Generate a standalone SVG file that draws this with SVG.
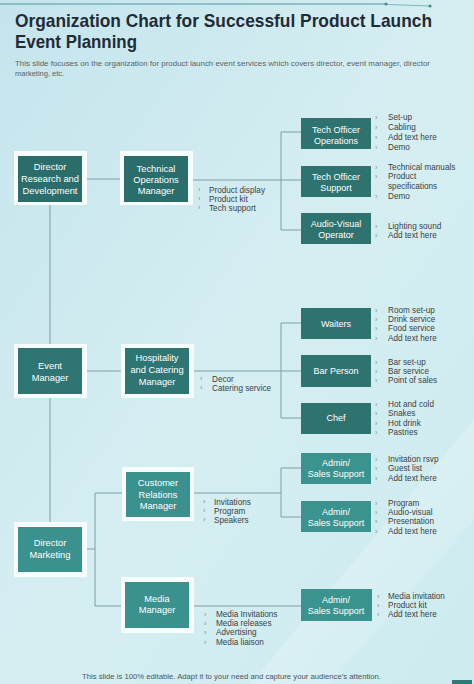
<svg xmlns="http://www.w3.org/2000/svg" width="474" height="684" viewBox="0 0 474 684">
<defs>
<linearGradient id="bg" x1="0" y1="0" x2="1" y2="1">
<stop offset="0" stop-color="#c4e4ec"/>
<stop offset="0.5" stop-color="#d5eef2"/>
<stop offset="1" stop-color="#cdebef"/>
</linearGradient>
<linearGradient id="streak" x1="0" y1="0" x2="1" y2="1">
<stop offset="0" stop-color="#ffffff" stop-opacity="0"/>
<stop offset="0.5" stop-color="#ffffff" stop-opacity="0.2"/>
<stop offset="1" stop-color="#ffffff" stop-opacity="0"/>
</linearGradient>
<style>
.frame{fill:#f7fcfd}
.d1{fill:#2b6d6b}
.d2{fill:#2f7573}
.d3{fill:#3a918e}
.bx{fill:#2f7371}
.bx2{fill:#3b9390}
.nt{font-family:"Liberation Sans",Arial,sans-serif;font-size:9.3px;fill:#ffffff;text-anchor:middle}
.st{font-family:"Liberation Sans",Arial,sans-serif;font-size:9px;fill:#ffffff;text-anchor:middle}
.li{font-family:"Liberation Sans",Arial,sans-serif;font-size:8.2px;fill:#3a3f44}
.bu{font-family:"Liberation Sans",Arial,sans-serif;font-size:7px;fill:#7a8489}
.conn path{fill:none;stroke:#7f9ea3;stroke-width:1}
</style>
</defs>
<rect width="474" height="684" fill="url(#bg)"/>
<polygon points="250,684 474,420 474,520 330,684" fill="url(#streak)"/>
<g id="topline">
<line x1="0" y1="4" x2="386" y2="4" stroke="#4e9aa0" stroke-width="1.2"/>
<line x1="386" y1="4.5" x2="430" y2="6" stroke="#6aa9ae" stroke-width="0.8"/>
<circle cx="386" cy="4" r="1.6" fill="#3f8e94"/>
<circle cx="430" cy="6" r="1.6" fill="#3f8e94"/>
</g>
<g id="title" font-family="'Liberation Sans',Arial,sans-serif" font-weight="bold" fill="#1f2b36">
<text x="15" y="27" font-size="18.5" textLength="417" lengthAdjust="spacingAndGlyphs">Organization Chart for Successful Product Launch</text>
<text x="15" y="48" font-size="18.5" textLength="122" lengthAdjust="spacingAndGlyphs">Event Planning</text>
</g>
<g id="subtitle" font-family="'Liberation Sans',Arial,sans-serif" font-size="7.5" fill="#5a6268">
<text x="15" y="66" textLength="415" lengthAdjust="spacingAndGlyphs">This slide focuses on the organization for product launch event services which covers director, event manager, director</text>
<text x="15" y="75.5">marketing, etc.</text>
</g>
<g id="connectors" class="conn">
<path d="M50 205 V522"/>
<path d="M87 179 H120"/>
<path d="M87 371 H121"/>
<path d="M193 180 H281 M281 132 V230 M281 132 H301 M281 180 H301 M281 230 H301"/>
<path d="M194 371 H281 M281 323 V418 M281 323 H301 M281 371 H301 M281 418 H301"/>
<path d="M87 549 H95 M95 493 V606 M95 493 H122 M95 606 H121"/>
<path d="M194 493 H281 M281 468 V517 M281 468 H301 M281 517 H301"/>
<path d="M194 606 H301"/>
</g>
<g id="n-dir-rd">
<rect class="frame" x="14" y="151" width="73" height="54"/>
<rect class="d1" x="18" y="156" width="64" height="46"/>
<text class="nt" x="50" y="169.5">Director</text>
<text class="nt" x="50" y="181.5">Research and</text>
<text class="nt" x="50" y="193.5">Development</text>
</g>
<g id="n-tech-ops">
<rect class="frame" x="120" y="151" width="73" height="54"/>
<rect class="d1" x="124" y="156" width="64" height="46"/>
<text class="nt" x="156" y="172">Technical</text>
<text class="nt" x="156" y="183">Operations</text>
<text class="nt" x="156" y="194">Manager</text>
</g>
<g id="n-event">
<rect class="frame" x="14" y="344" width="73" height="54"/>
<rect class="d2" x="18" y="348" width="64" height="46"/>
<text class="nt" x="50" y="369">Event</text>
<text class="nt" x="50" y="380.5">Manager</text>
</g>
<g id="n-hosp">
<rect class="frame" x="121" y="344" width="73" height="54"/>
<rect class="d2" x="125" y="348" width="64" height="46"/>
<text class="nt" x="157" y="361">Hospitality</text>
<text class="nt" x="157" y="373">and Catering</text>
<text class="nt" x="157" y="384.5">Manager</text>
</g>
<g id="n-dir-mkt">
<rect class="frame" x="14" y="522" width="73" height="55"/>
<rect class="d3" x="18" y="527" width="64" height="45"/>
<text class="nt" x="50" y="546">Director</text>
<text class="nt" x="50" y="558">Marketing</text>
</g>
<g id="n-crm">
<rect class="frame" x="122" y="467" width="72" height="54"/>
<rect class="d3" x="126" y="472" width="64" height="45"/>
<text class="nt" x="158" y="486">Customer</text>
<text class="nt" x="158" y="497.5">Relations</text>
<text class="nt" x="158" y="509">Manager</text>
</g>
<g id="n-media">
<rect class="frame" x="121" y="577" width="73" height="56"/>
<rect class="d3" x="125" y="582" width="64" height="46"/>
<text class="nt" x="157" y="602">Media</text>
<text class="nt" x="157" y="613">Manager</text>
</g>
<g id="n-to-ops">
<rect class="bx" x="301" y="118" width="70" height="31"/>
<text class="st" x="336" y="133">Tech Officer</text>
<text class="st" x="336" y="143.5">Operations</text>
</g>
<g id="n-to-sup">
<rect class="bx" x="301" y="166" width="70" height="31"/>
<text class="st" x="336" y="180">Tech Officer</text>
<text class="st" x="336" y="190.5">Support</text>
</g>
<g id="n-av">
<rect class="bx" x="301" y="213" width="70" height="31"/>
<text class="st" x="336" y="227">Audio-Visual</text>
<text class="st" x="336" y="238">Operator</text>
</g>
<g id="n-waiters">
<rect class="bx" x="301" y="308" width="70" height="31"/>
<text class="st" x="336" y="327">Waiters</text>
</g>
<g id="n-bar">
<rect class="bx" x="301" y="355" width="70" height="32"/>
<text class="st" x="336" y="374">Bar Person</text>
</g>
<g id="n-chef">
<rect class="bx" x="301" y="403" width="70" height="31"/>
<text class="st" x="336" y="421">Chef</text>
</g>
<g id="n-admin1">
<rect class="bx2" x="301" y="453" width="70" height="31"/>
<text class="st" x="336" y="466">Admin/</text>
<text class="st" x="336" y="477">Sales Support</text>
</g>
<g id="n-admin2">
<rect class="bx2" x="301" y="501" width="70" height="31"/>
<text class="st" x="336" y="515">Admin/</text>
<text class="st" x="336" y="526">Sales Support</text>
</g>
<g id="n-admin3">
<rect class="bx2" x="301" y="589" width="71" height="32"/>
<text class="st" x="336" y="603">Admin/</text>
<text class="st" x="336" y="613.5">Sales Support</text>
</g>
<g id="lists">
<g id="l-tech-ops">
<text class="bu" x="198" y="192">›</text><text class="li" x="209" y="193">Product display</text>
<text class="bu" x="198" y="201">›</text><text class="li" x="209" y="202">Product kit</text>
<text class="bu" x="198" y="210">›</text><text class="li" x="209" y="211">Tech support</text>
</g>
<g id="l-to-ops">
<text class="bu" x="375" y="120">›</text><text class="li" x="388" y="120">Set-up</text>
<text class="bu" x="375" y="130">›</text><text class="li" x="388" y="130">Cabling</text>
<text class="bu" x="375" y="140">›</text><text class="li" x="388" y="140">Add text here</text>
<text class="bu" x="375" y="150">›</text><text class="li" x="388" y="150">Demo</text>
</g>
<g id="l-to-sup">
<text class="bu" x="375" y="170">›</text><text class="li" x="388" y="170">Technical manuals</text>
<text class="bu" x="375" y="179">›</text><text class="li" x="388" y="179">Product</text>
<text class="li" x="388" y="189">specifications</text>
<text class="bu" x="375" y="199">›</text><text class="li" x="388" y="199">Demo</text>
</g>
<g id="l-av">
<text class="bu" x="375" y="229">›</text><text class="li" x="388" y="229">Lighting sound</text>
<text class="bu" x="375" y="238">›</text><text class="li" x="388" y="238">Add text here</text>
</g>
<g id="l-hosp">
<text class="bu" x="200" y="381">›</text><text class="li" x="212" y="382">Decor</text>
<text class="bu" x="200" y="390">›</text><text class="li" x="212" y="391">Catering service</text>
</g>
<g id="l-waiters">
<text class="bu" x="375" y="313">›</text><text class="li" x="388" y="313">Room set-up</text>
<text class="bu" x="375" y="322">›</text><text class="li" x="388" y="322">Drink service</text>
<text class="bu" x="375" y="331">›</text><text class="li" x="388" y="331">Food service</text>
<text class="bu" x="375" y="341">›</text><text class="li" x="388" y="341">Add text here</text>
</g>
<g id="l-bar">
<text class="bu" x="375" y="365">›</text><text class="li" x="388" y="365">Bar set-up</text>
<text class="bu" x="375" y="374">›</text><text class="li" x="388" y="374">Bar service</text>
<text class="bu" x="375" y="383">›</text><text class="li" x="388" y="383">Point of sales</text>
</g>
<g id="l-chef">
<text class="bu" x="375" y="407">›</text><text class="li" x="388" y="407">Hot and cold</text>
<text class="bu" x="375" y="416">›</text><text class="li" x="388" y="416">Snakes</text>
<text class="bu" x="375" y="426">›</text><text class="li" x="388" y="426">Hot drink</text>
<text class="bu" x="375" y="435">›</text><text class="li" x="388" y="435">Pastries</text>
</g>
<g id="l-crm">
<text class="bu" x="203" y="504">›</text><text class="li" x="214" y="505">Invitations</text>
<text class="bu" x="203" y="513">›</text><text class="li" x="214" y="514">Program</text>
<text class="bu" x="203" y="522">›</text><text class="li" x="214" y="523">Speakers</text>
</g>
<g id="l-admin1">
<text class="bu" x="375" y="462">›</text><text class="li" x="388" y="462">Invitation rsvp</text>
<text class="bu" x="375" y="471">›</text><text class="li" x="388" y="471">Guest list</text>
<text class="bu" x="375" y="481">›</text><text class="li" x="388" y="481">Add text here</text>
</g>
<g id="l-admin2">
<text class="bu" x="375" y="506">›</text><text class="li" x="388" y="506">Program</text>
<text class="bu" x="375" y="515">›</text><text class="li" x="388" y="515">Audio-visual</text>
<text class="bu" x="375" y="524">›</text><text class="li" x="388" y="524">Presentation</text>
<text class="bu" x="375" y="534">›</text><text class="li" x="388" y="534">Add text here</text>
</g>
<g id="l-media">
<text class="bu" x="204" y="617">›</text><text class="li" x="216" y="617">Media Invitations</text>
<text class="bu" x="204" y="626">›</text><text class="li" x="216" y="626">Media releases</text>
<text class="bu" x="204" y="635">›</text><text class="li" x="216" y="635">Advertising</text>
<text class="bu" x="204" y="645">›</text><text class="li" x="216" y="645">Media liaison</text>
</g>
<g id="l-admin3">
<text class="bu" x="377" y="599">›</text><text class="li" x="388" y="599">Media invitation</text>
<text class="bu" x="377" y="608">›</text><text class="li" x="388" y="608">Product kit</text>
<text class="bu" x="377" y="617">›</text><text class="li" x="388" y="617">Add text here</text>
</g>
</g>
<text x="82" y="679" font-family="'Liberation Sans',Arial,sans-serif" font-size="7.3" fill="#4d555b" textLength="299" lengthAdjust="spacingAndGlyphs">This slide is 100% editable. Adapt it to your need and capture your audience’s attention.</text>
<rect x="452" y="680" width="20" height="4" fill="#2e7a78"/>
</svg>
